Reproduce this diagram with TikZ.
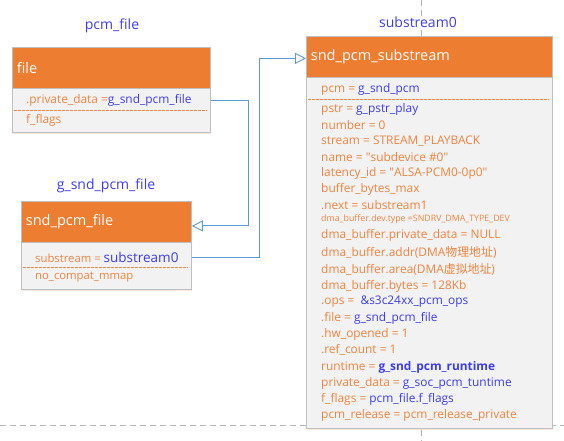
\documentclass[tikz,border=0pt]{standalone}
\usepackage{fontspec}
\setmainfont{Open Sans}
\newfontfamily\cjk{Noto Sans CJK SC}
\usetikzlibrary{arrows.meta,shadows}
\definecolor{hdrorange}{HTML}{ED7D31}
\definecolor{txtorange}{HTML}{EE8440}
\definecolor{valblue}{HTML}{3D3DEE}
\definecolor{linkblue}{HTML}{5B9BD5}
\definecolor{bodygray}{HTML}{F2F2F2}
\definecolor{edgegray}{HTML}{BFBFBF}
\definecolor{guidegray}{HTML}{B4B4B4}
\newcommand{\val}[1]{\textcolor{valblue}{#1}}
\newcommand{\dq}{\textquotedbl}
\tikzset{
  hdr/.style={draw=edgegray, line width=0.8pt, fill=hdrorange, text=white, anchor=north west,
    inner xsep=4.5pt, align=left, font=\fontsize{14.5}{17}\selectfont},
  body/.style={draw=edgegray, line width=0.8pt, fill=bodygray, anchor=north west, inner sep=0pt,
    drop shadow={opacity=0.18, fill=hdrorange, shadow xshift=1pt, shadow yshift=-2pt}},
  row/.style={anchor=west, inner sep=0pt, text=txtorange, font=\fontsize{11.9}{14}\selectfont},
  title/.style={text=valblue, font=\fontsize{14}{17}\selectfont},
  sep/.style={txtorange, dashed, dash pattern=on 2.5pt off 1.5pt, line width=0.6pt},
  link/.style={linkblue, line width=0.9pt, -{Triangle[open, length=11pt, width=11pt]}},
  guide/.style={guidegray, dashed, dash pattern=on 6pt off 4pt, line width=0.6pt},
}
\begin{document}
\begin{tikzpicture}[x=1pt, y=-1pt]
  \useasboundingbox (0,0) rectangle (564,441);
  % guides
  \draw[guide] (421,0) -- (421,441);
  \draw[guide] (0,425) -- (564,425);

  % pcm_file
  \node[title] (fileT) at (112,26) {pcm\_file};
  \node[body, minimum width=198pt, minimum height=44pt] (fileB) at (12,88) {};
  \node[hdr, minimum height=41pt, text width=189pt] (fileH) at (12,47) {file};
  \node[row] (fPriv) at (26,100) {.private\_data =\val{g\_snd\_pcm\_file}};
  \draw[sep] (14,110) -- (207,110);
  \node[row] (fFlags) at (26,120) {f\_flags};

  % g_snd_pcm_file
  \node[title] (sndT) at (106,186) {g\_snd\_pcm\_file};
  \node[body, minimum width=170pt, minimum height=47pt] (sndB) at (21,242) {};
  \node[hdr, minimum height=41pt, text width=161pt] (sndH) at (21,201) {snd\_pcm\_file};
  \node[row, font=\fontsize{11.3}{14}\selectfont] (sSub) at (35,257) {substream = \val{\fontsize{13.5}{16}\selectfont substream0}};
  \draw[sep] (23,267) -- (188,267);
  \node[row, font=\fontsize{11.3}{14}\selectfont] (sMmap) at (35,277) {no\_compat\_mmap};

  % substream0
  \node[title] (subsT) at (418,22) {substream0};
  \node[body, minimum width=246pt, minimum height=351pt] (subsB) at (306,77) {};
  \node[hdr, minimum height=41pt, text width=237pt] (subsH) at (306,36) {snd\_pcm\_substream};
  \node[row] (r1) at (321,89) {pcm = \val{g\_snd\_pcm}};
  \draw[sep] (308,99) -- (549,99);
  \node[row] (r2) at (321,109) {pstr = \val{g\_pstr\_play}};
  \node[row] (r3) at (321,125) {number = 0};
  \node[row] (r4) at (321,141) {stream = STREAM\_PLAYBACK};
  \node[row] (r5) at (321,157) {name = \dq subdevice \#0\dq};
  \node[row] (r6) at (321,173) {latency\_id = \dq ALSA-PCM0-0p0\dq};
  \node[row] (r7) at (321,189) {buffer\_bytes\_max};
  \node[row] (r8) at (321,205) {.next = substream1};
  \node[row, font=\fontsize{8.8}{10}\selectfont] (r9) at (321,219) {dma\_buffer.dev.type =SNDRV\_DMA\_TYPE\_DEV};
  \node[row] (r10) at (321,235) {dma\_buffer.private\_data = NULL};
  \node[row] (r11) at (321,252) {dma\_buffer.addr(DMA{\cjk 物理地址})};
  \node[row] (r12) at (321,269) {dma\_buffer.area(DMA{\cjk 虚拟地址})};
  \node[row] (r13) at (321,286) {dma\_buffer.bytes = 128Kb};
  \node[row] (r14) at (321,302) {.ops = \ \val{\&s3c24xx\_pcm\_ops}};
  \node[row] (r15) at (321,318) {.file = \val{g\_snd\_pcm\_file}};
  \node[row] (r16) at (321,334) {.hw\_opened = 1};
  \node[row] (r17) at (321,350) {.ref\_count = 1};
  \node[row] (r18) at (321,367) {runtime = \val{\bfseries g\_snd\_pcm\_runtime}};
  \node[row] (r19) at (321,383) {private\_data = \val{g\_soc\_pcm\_tuntime}};
  \node[row] (r20) at (321,399) {f\_flags = \val{pcm\_file.f\_flags}};
  \node[row] (r21) at (321,415) {pcm\_release = pcm\_release\_private};

  % links
  \draw[link] (fPriv -| fileB.east) -- ++(38,0) |- ([yshift=-4pt]sndH.east);
  \draw[link] (sSub -| sndB.east) -- ++(68,0) |- ([yshift=-1.5pt]subsH.west);
\end{tikzpicture}
\end{document}
